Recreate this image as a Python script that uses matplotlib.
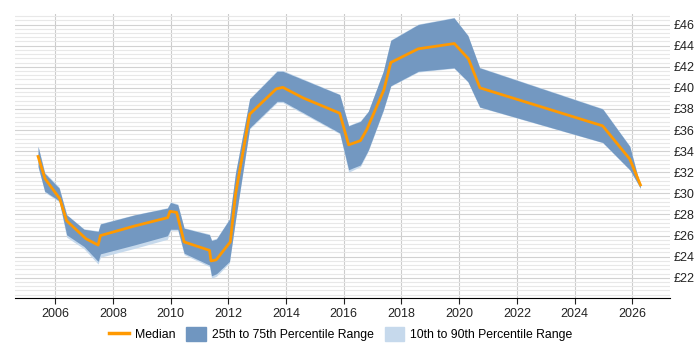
import matplotlib.pyplot as plt
from matplotlib.lines import Line2D
from matplotlib.patches import Patch
from matplotlib.ticker import MultipleLocator, FuncFormatter

plt.rcParams['font.family'] = ['Liberation Sans', 'DejaVu Sans']

# median
med_x = [2005.41, 2005.65, 2006.16, 2006.40, 2007.07, 2007.49, 2007.57, 2008.74, 2009.90,
         2009.98, 2010.21, 2010.47, 2011.35, 2011.40, 2011.58, 2012.07, 2012.25, 2012.74,
         2013.66, 2013.89, 2014.59, 2015.86, 2016.17, 2016.58, 2016.79, 2017.39, 2017.63,
         2018.58, 2019.83, 2020.32, 2020.72, 2024.97, 2025.91, 2026.28]
med_y = [33.5, 31.4, 29.5, 27.4, 25.7, 25.1, 26.0, 26.9, 27.7,
         28.3, 28.2, 25.4, 24.6, 23.6, 23.7, 25.4, 29.9, 37.5,
         39.9, 40.05, 39.05, 37.6, 34.6, 35.0, 36.0, 39.8, 42.4,
         43.7, 44.2, 42.75, 40.0, 36.4, 33.25, 30.8]

# 25th / 75th percentile band
band_x = [2005.41, 2005.64, 2006.14, 2006.40, 2007.00, 2007.49, 2007.57, 2008.77, 2009.89,
          2010.00, 2010.25, 2010.47, 2011.35, 2011.42, 2011.59, 2012.04, 2012.25, 2012.74,
          2013.69, 2013.89, 2015.86, 2016.17, 2016.58, 2016.85, 2017.37, 2017.63,
          2018.58, 2019.82, 2020.30, 2020.71, 2024.97, 2025.91, 2026.28]
q75 = [34.45, 31.9, 30.5, 27.97, 26.6, 26.4, 27.1, 27.97, 28.6,
       29.14, 28.92, 26.7, 26.08, 25.54, 25.67, 27.56, 31.93, 38.95,
       41.57, 41.57, 39.36, 36.4, 36.83, 37.77, 41.57, 44.5,
       46.0, 46.63, 44.96, 41.9, 38.0, 34.45, 30.66]
q25 = [32.55, 30.2, 29.3, 26.07, 24.97, 23.55, 24.27, 25.13, 25.98,
       26.6, 26.6, 24.33, 23.2, 22.19, 22.38, 23.55, 27.5, 36.2,
       38.72, 38.72, 35.73, 32.24, 32.7, 34.1, 37.9, 40.2,
       41.57, 41.9, 40.6, 38.19, 34.83, 32.24, 30.5]

# 10th / 90th percentile band
q90 = [34.5, 32.0, 30.6, 28.0, 26.65, 26.45, 27.15, 28.0, 28.65,
       29.2, 29.0, 26.75, 26.15, 25.6, 25.75, 27.6, 32.0, 39.0,
       41.65, 41.65, 39.4, 36.45, 36.9, 37.8, 41.6, 44.55,
       46.05, 46.68, 45.0, 41.95, 38.05, 34.5, 30.7]
q10 = [32.5, 30.1, 29.2, 25.85, 24.75, 23.3, 23.95, 24.8, 25.65,
       26.5, 26.5, 24.2, 23.05, 21.95, 22.15, 23.4, 27.4, 36.1,
       38.6, 38.6, 35.65, 32.0, 32.55, 34.0, 37.8, 40.15,
       41.5, 41.85, 40.55, 38.15, 34.8, 32.2, 30.45]

fig = plt.figure(figsize=(7, 3.5), dpi=100)
ax = fig.add_axes([0.021, 0.149, 0.936, 0.811])

c_light = '#c6d9ec'
c_dark = '#7096c0'
c_med = '#ff9900'

ax.fill_between(band_x, q10, q90, color=c_light, lw=0)
ax.fill_between(band_x, q25, q75, color=c_dark, lw=0, alpha=0.97)
ax.plot(med_x, med_y, color=c_med, lw=2, zorder=3)

ax.set_xlim(2004.6, 2027.3)
ax.set_ylim(20.1, 47.0)

ax.xaxis.set_major_locator(MultipleLocator(2))
ax.yaxis.set_major_locator(MultipleLocator(2))
ax.yaxis.set_minor_locator(MultipleLocator(0.4))
ax.yaxis.tick_right()
ax.yaxis.set_major_formatter(FuncFormatter(lambda v, p: f'£{v:.0f}'))

ax.grid(axis='x', which='major', color='#cccccc', lw=0.8)
ax.grid(axis='y', which='major', color='#d2d2d2', lw=0.8)
ax.grid(axis='y', which='minor', color='#e8e8e8', lw=0.8)
ax.set_axisbelow(True)

for s in ['top', 'left', 'right']:
    ax.spines[s].set_visible(False)
ax.spines['bottom'].set_color('#000000')
ax.tick_params(axis='y', which='both', length=0, labelsize=9, pad=3, colors='#222222')
ax.tick_params(axis='x', length=4, labelsize=9, colors='#222222')

handles = [Line2D([0], [0], color=c_med, lw=2.5),
           Patch(color=c_dark),
           Patch(color=c_light)]
labels = ['Median', '25th to 75th Percentile Range', '10th to 90th Percentile Range']
fig.legend(handles, labels, loc='center', bbox_to_anchor=(0.487, 0.045), ncol=3,
           frameon=False, fontsize=8.8, handlelength=1.6, handleheight=1.3,
           columnspacing=0.9, handletextpad=0.5)

fig.savefig('out.png', dpi=100)
